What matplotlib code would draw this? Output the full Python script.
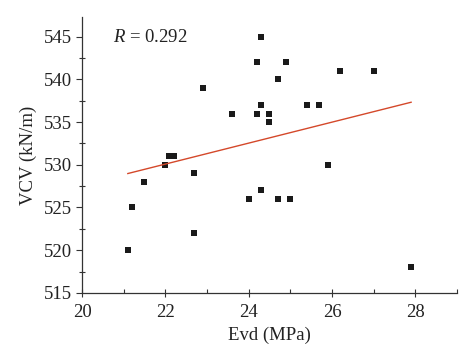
import numpy as np
import matplotlib
matplotlib.use("Agg")
import matplotlib.pyplot as plt
from matplotlib.ticker import MultipleLocator

evd = [21.1, 21.2, 21.5, 22.0, 22.1, 22.2, 22.7, 22.7, 22.9, 23.6, 24.0, 24.2, 24.2,
       24.3, 24.3, 24.3, 24.5, 24.5, 24.7, 24.7, 24.9, 25.0, 25.4, 25.7, 25.9, 26.2,
       27.0, 27.9]
vcv = [520, 525, 528, 530, 531, 531, 529, 522, 539, 536, 526, 542, 536,
       545, 537, 527, 536, 535, 540, 526, 542, 526, 537, 537, 530, 541,
       541, 518]
r_text = "0.292"

plt.rcParams['font.family'] = ['Liberation Serif', 'DejaVu Serif']
plt.rcParams['mathtext.fontset'] = 'custom'
plt.rcParams['mathtext.it'] = 'Liberation Serif:italic'
plt.rcParams['mathtext.rm'] = 'Liberation Serif'
fig = plt.figure(figsize=(4.74, 3.62), dpi=100)
ax = fig.add_axes([0.173, 0.191, 0.791, 0.762])

ax.plot(evd, vcv, 's', color='#1a1a1a', markersize=4.6, markeredgewidth=0)
k, b = np.polyfit(evd, vcv, 1)
xs = np.array([min(evd), max(evd)])
ax.plot(xs, k * xs + b, color='#d4482a', linewidth=1.0)

ax.set_xlim(20, 29)
ax.set_ylim(515, 547.3)
ax.xaxis.set_major_locator(MultipleLocator(2))
ax.xaxis.set_minor_locator(MultipleLocator(1))
ax.yaxis.set_major_locator(MultipleLocator(5))
ax.yaxis.set_minor_locator(MultipleLocator(2.5))
for s in ['top', 'right']:
    ax.spines[s].set_visible(False)
for s in ['left', 'bottom']:
    ax.spines[s].set_color('#333333')
    ax.spines[s].set_linewidth(0.9)
ax.tick_params(axis='x', which='major', direction='inout', length=6, width=0.8,
               colors='#333333', labelsize=13.5, labelcolor='#222222', pad=5)
ax.tick_params(axis='x', which='minor', direction='in', length=3, width=0.8, colors='#333333')
ax.tick_params(axis='y', which='major', direction='out', length=4, width=0.8,
               colors='#333333', labelsize=13.5, labelcolor='#222222')
ax.tick_params(axis='y', which='minor', direction='inout', length=4, width=0.8, colors='#333333')

ax.set_xlabel('Evd (MPa)', fontsize=13.5, color='#222222', labelpad=4)
ax.set_ylabel('VCV (kN/m)', fontsize=13.5, color='#222222', labelpad=5)
ax.text(0.083, 0.955, '$\\it{R}$ = ' + r_text, transform=ax.transAxes, fontsize=13.5,
        va='top', ha='left', color='#222222')

fig.savefig('out.png', dpi=100)
